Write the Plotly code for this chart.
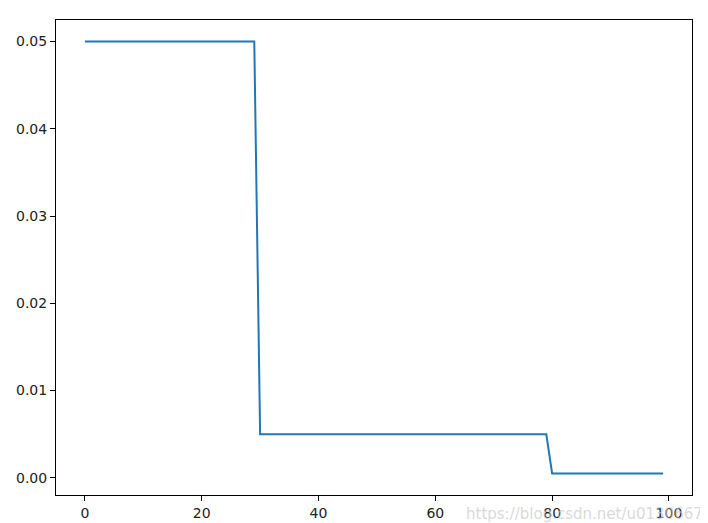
import plotly.graph_objects as go

epochs = list(range(100))
lr = [0.05] * 30 + [0.005] * 50 + [0.0005] * 20
x_ticks = [0, 20, 40, 60, 80, 100]
y_ticks = [0.00, 0.01, 0.02, 0.03, 0.04, 0.05]

fig = go.Figure()
fig.add_trace(go.Scatter(x=epochs, y=lr, mode="lines",
                         line=dict(color="#1f77b4", width=2), showlegend=False))

axis_common = dict(showline=True, linecolor="black", linewidth=1, mirror=True,
                   ticks="outside", ticklen=5, tickwidth=1, tickcolor="black",
                   showgrid=False, zeroline=False, automargin=False,
                   tickfont=dict(family="DejaVu Sans", size=14, color="#222"))

fig.update_layout(
    width=700, height=515,
    margin=dict(l=48, r=16, t=12, b=28),
    paper_bgcolor="white", plot_bgcolor="white",
    xaxis=dict(range=[-4.95, 103.95], tickvals=x_ticks, **axis_common),
    yaxis=dict(range=[-0.001975, 0.052475], tickvals=y_ticks, tickformat=".2f", **axis_common),
    annotations=[dict(text="https://blog.csdn.net/u013066730", xref="paper", yref="paper",
                      x=0.643, y=-0.062, xanchor="left", yanchor="bottom", showarrow=False,
                      borderpad=0,
                      font=dict(family="DejaVu Sans", size=15, color="rgba(200,200,200,0.7)"))],
)

fig.write_html("out.html")
